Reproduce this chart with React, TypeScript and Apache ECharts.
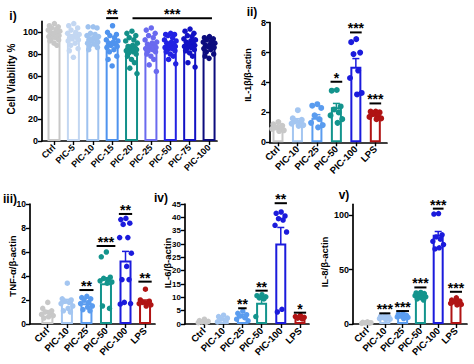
import React, { useEffect, useRef } from "react";
import * as echarts from "echarts";

const FONT = "'Liberation Sans', Arial, Helvetica, sans-serif";

// Horizontal spread of individual replicates around each category centre (category units)
const JITTER = [0.02, -0.24, 0.22, -0.12, 0.12, -0.3, 0.3, 0.06, -0.18, 0.18, -0.06, 0.26, -0.27, 0.09, -0.14, 0.24, -0.21, 0.0, 0.15, -0.09, 0.28];

// ---------- i) Cell viability ----------
const viabilityCategories = ["Ctrl", "PIC-5", "PIC-10", "PIC-15", "PIC-20", "PIC-25", "PIC-50", "PIC-75", "PIC-100"];
const viabilityMeans = [99, 96, 94, 89, 86, 86, 88, 87, 87];
const viabilitySem = [1.2, 1.8, 1.5, 2.0, 2.0, 2.2, 1.6, 1.8, 1.3];
const viabilityPoints = [
  [108, 106, 105, 104, 103, 102, 101, 100, 100, 99, 98, 97, 96, 95, 94, 93, 92, 90, 88],
  [108, 106, 104, 102, 100, 99, 98, 97, 96, 95, 94, 93, 92, 90, 88, 85, 83, 77],
  [105, 105, 104, 99, 98, 97, 96, 95, 94, 93, 92, 91, 90, 89, 88, 86, 84],
  [106, 100, 98, 97, 95, 93, 92, 91, 90, 89, 88, 87, 86, 84, 82, 78, 75, 69],
  [101, 99, 97, 95, 93, 92, 90, 88, 87, 86, 85, 84, 83, 82, 81, 80, 78, 75, 72, 67, 62],
  [104, 102, 99, 97, 95, 93, 91, 90, 89, 88, 87, 86, 85, 84, 83, 82, 80, 78, 75, 70, 64],
  [99, 98, 98, 97, 95, 93, 92, 91, 90, 89, 88, 87, 86, 85, 84, 83, 82, 80, 78, 75, 71],
  [103, 101, 99, 97, 96, 94, 93, 92, 91, 90, 89, 88, 87, 86, 85, 84, 83, 81, 78, 72, 68],
  [96, 95, 94, 93, 92, 91, 90, 89, 88, 88, 87, 86, 85, 84, 82, 80, 78, 76],
];
const viabilityColors = ["#c8c8c8", "#c3d7f2", "#9ec2ef", "#4f93ee", "#139089", "#6a6aef", "#2323e3", "#1212c4", "#0c0c7e"];
const viabilityTicks = [0, 20, 40, 60, 80, 100];
const viabilitySig: [number, number, number, string][] = [
  [2.69, 3.31, 113, "**"],
  [4.05, 8.15, 113, "***"],
];

// ---------- shared treatment groups for ii–v ----------
const treatmentCategories = ["Ctrl", "PIC-10", "PIC-25", "PIC-50", "PIC-100", "LPS"];
const treatmentColors = ["#c8c8c8", "#a4c6f1", "#5a9cef", "#13948d", "#1b1bdc", "#b01414"];

// ---------- ii) IL-1β ----------
const il1bMeans = [1.0, 1.45, 1.65, 2.35, 5.05, 1.85];
const il1bSem = [0.1, 0.13, 0.2, 0.25, 0.55, 0.08];
const il1bPoints = [
  [1.35, 1.2, 1.1, 1.0, 0.95, 0.9, 0.8, 0.75],
  [2.15, 1.6, 1.5, 1.4, 1.35, 1.25, 1.15, 1.1],
  [2.55, 2.45, 2.3, 1.8, 1.55, 1.3, 1.15, 1.0],
  [3.5, 3.45, 2.4, 2.2, 2.0, 1.8, 1.55, 1.3],
  [6.9, 6.7, 6.0, 5.9, 4.8, 4.3, 3.3, 3.2],
  [2.05, 2.05, 2.0, 1.9, 1.8, 1.7, 1.6, 1.55],
];
const il1bTicks = [0, 2, 4, 6, 8];
const il1bSig: [number, number, number, string][] = [
  [2.7, 3.3, 4.05, "*"],
  [3.7, 4.3, 7.35, "***"],
  [4.7, 5.3, 2.6, "***"],
];

// ---------- iii) TNF-α ----------
const tnfMeans = [1.0, 1.85, 1.72, 3.4, 5.3, 1.85];
const tnfSem = [0.12, 0.2, 0.12, 0.45, 0.75, 0.15];
const tnfPoints = [
  [1.8, 1.3, 1.1, 1.0, 0.9, 0.8, 0.7, 0.6, 0.5],
  [3.4, 2.1, 2.0, 1.9, 1.8, 1.7, 1.5, 1.3, 1.1, 1.0],
  [2.3, 2.2, 2.1, 2.0, 1.8, 1.7, 1.5, 1.4, 1.2, 1.1],
  [6.0, 5.6, 3.9, 3.8, 3.7, 3.6, 3.5, 3.4, 1.5, 1.3],
  [8.8, 8.7, 8.4, 8.3, 7.2, 7.2, 5.9, 4.8, 3.7, 3.7, 1.8, 1.7, 1.65],
  [2.9, 2.0, 1.9, 1.8, 1.75, 1.7, 1.6, 1.5],
];
const tnfTicks = [0, 2, 4, 6, 8, 10];
const tnfSig: [number, number, number, string][] = [
  [1.64, 2.36, 2.83, "**"],
  [2.52, 3.48, 6.5, "***"],
  [3.66, 4.34, 9.17, "**"],
  [4.66, 5.34, 3.53, "**"],
];

// ---------- iv) IL-6 ----------
const il6Means = [1.0, 1.8, 3.0, 8.0, 30.2, 2.5];
const il6Sem = [0.15, 0.3, 0.5, 1.4, 6.0, 0.3];
const il6Points = [
  [1.8, 1.3, 1.0, 0.8, 0.6, 0.5],
  [3.3, 2.8, 2.2, 1.8, 1.2, 0.8],
  [4.8, 4.0, 3.5, 3.0, 2.4, 1.8, 1.2],
  [11.0, 10.6, 10.2, 9.8, 9.4, 2.8],
  [42.0, 41.5, 40.5, 39.5, 39.0, 37.0, 34.5, 5.5, 4.5],
  [3.2, 2.8, 2.5, 2.2, 1.9],
];
const il6Ticks = [0, 5, 10, 15, 20, 25, 30, 35, 40, 45];
const il6Sig: [number, number, number, string][] = [
  [1.78, 2.22, 5.9, "**"],
  [2.68, 3.32, 12.5, "**"],
  [3.68, 4.32, 45.3, "**"],
  [4.68, 5.32, 4.25, "*"],
];

// ---------- v) IL-8 ----------
const il8Means = [1.0, 5.5, 7.0, 26.0, 82.0, 20.0];
const il8Sem = [0.2, 0.6, 0.7, 0.9, 3.0, 1.0];
const il8Points = [
  [2.0, 1.5, 1.2, 1.0, 0.8, 0.6],
  [8.0, 7.0, 6.5, 6.0, 5.5, 5.0, 4.5, 4.0],
  [10.0, 9.0, 8.0, 7.5, 7.0, 6.5, 6.0, 5.0],
  [29.0, 28.5, 28.0, 27.5, 27.0, 26.0, 25.0, 24.0, 23.0, 22.0],
  [101.5, 101.0, 82.0, 80.0, 78.0, 76.0, 73.0, 70.0, 69.0],
  [24.0, 22.0, 21.0, 20.5, 20.0, 19.0, 18.0, 17.5],
];
const il8Ticks = [0, 50, 100];
const il8Sig: [number, number, number, string][] = [
  [0.69, 1.31, 9.8, "***"],
  [1.64, 2.36, 11.9, "***"],
  [2.66, 3.34, 33.6, "***"],
  [3.7, 4.3, 106, "***"],
  [4.66, 5.34, 29.6, "***"],
];

type Panel = {
  cats: string[];
  means: number[];
  sem: number[];
  points: number[][];
  colors: string[];
  ticks: number[];
  yMax: number;
  sig: [number, number, number, string][];
  grid: { left: number; top: number; width: number; height: number };
  xMin: number;
  xMax: number;
  barWidth: number;
  dotSize: number;
  tickFont: number;
  catFont: number;
};

const panels: Panel[] = [
  {
    cats: viabilityCategories, means: viabilityMeans, sem: viabilitySem, points: viabilityPoints,
    colors: viabilityColors, ticks: viabilityTicks, yMax: 110, sig: viabilitySig,
    grid: { left: 42, top: 21.4, width: 175, height: 119.6 }, xMin: -0.62, xMax: 8.41,
    barWidth: 13, dotSize: 5.5, tickFont: 9, catFont: 9,
  },
  {
    cats: treatmentCategories, means: il1bMeans, sem: il1bSem, points: il1bPoints,
    colors: treatmentColors, ticks: il1bTicks, yMax: 8, sig: il1bSig,
    grid: { left: 270, top: 22.7, width: 117, height: 119.6 }, xMin: -0.41, xMax: 5.6,
    barWidth: 11, dotSize: 6, tickFont: 9, catFont: 9.5,
  },
  {
    cats: treatmentCategories, means: tnfMeans, sem: tnfSem, points: tnfPoints,
    colors: treatmentColors, ticks: tnfTicks, yMax: 10, sig: tnfSig,
    grid: { left: 30, top: 204, width: 125, height: 120 }, xMin: -0.89, xMax: 5.51,
    barWidth: 12, dotSize: 5.5, tickFont: 8.5, catFont: 9.5,
  },
  {
    cats: treatmentCategories, means: il6Means, sem: il6Sem, points: il6Points,
    colors: treatmentColors, ticks: il6Ticks, yMax: 45, sig: il6Sig,
    grid: { left: 185, top: 204, width: 124, height: 120 }, xMin: -0.99, xMax: 5.47,
    barWidth: 11, dotSize: 5.5, tickFont: 8, catFont: 9.5,
  },
  {
    cats: treatmentCategories, means: il8Means, sem: il8Sem, points: il8Points,
    colors: treatmentColors, ticks: il8Ticks, yMax: 110, sig: il8Sig,
    grid: { left: 353, top: 204.3, width: 114, height: 119.7 }, xMin: -0.79, xMax: 5.62,
    barWidth: 11, dotSize: 5.5, tickFont: 9, catFont: 9.5,
  },
];

const panelTitles = ["i)", "ii)", "iii)", "iv)", "v)"];
const yAxisTitles = ["Cell Viability %", "IL-1β/β-actin", "TNF-α/β-actin", "IL-6/β-actin", "IL-8/β-actin"];

function buildOption() {
  const grid: any[] = [];
  const xAxis: any[] = [];
  const yAxis: any[] = [];
  const series: any[] = [];

  panels.forEach((p, k) => {
    const idx = p.cats.map((_, i) => i);
    grid.push({ ...p.grid, outerBoundsMode: "none", containLabel: false });
    xAxis.push({
      type: "value", gridIndex: k, min: p.xMin, max: p.xMax,
      axisLine: { show: true, onZero: false, lineStyle: { color: "#000", width: 1.7 } },
      axisTick: { show: true, length: 4, customValues: idx, lineStyle: { color: "#000", width: 1.4 } },
      axisLabel: {
        customValues: idx,
        formatter: (v: number) => p.cats[Math.round(v)] ?? "",
        rotate: 45, margin: 5, color: "#000",
        fontFamily: FONT, fontWeight: "bold", fontSize: p.catFont,
      },
      splitLine: { show: false },
    });
    yAxis.push({
      type: "value", gridIndex: k, min: 0, max: p.yMax,
      axisLine: { show: true, onZero: false, lineStyle: { color: "#000", width: 1.7 } },
      axisTick: { show: true, length: 4, customValues: p.ticks, lineStyle: { color: "#000", width: 1.4 } },
      axisLabel: {
        customValues: p.ticks, margin: 4, color: "#000",
        fontFamily: FONT, fontWeight: "bold", fontSize: p.tickFont,
      },
      splitLine: { show: false },
    });

    // hollow mean bars
    series.push({
      type: "bar", xAxisIndex: k, yAxisIndex: k, barWidth: p.barWidth, silent: true,
      data: p.means.map((m, i) => ({
        value: [i, m],
        itemStyle: { color: "#ffffff", borderColor: p.colors[i], borderWidth: 2 },
      })),
    });

    // individual replicates
    series.push({
      type: "scatter", xAxisIndex: k, yAxisIndex: k, symbolSize: p.dotSize, silent: true,
      data: p.points.flatMap((vals, i) =>
        vals.map((v, j) => ({ value: [i + JITTER[j % JITTER.length], v], itemStyle: { color: p.colors[i], opacity: 1 } }))
      ),
    });

    // mean ± SEM
    series.push({
      type: "custom", xAxisIndex: k, yAxisIndex: k, silent: true,
      data: p.means.map((m, i) => [i, m, p.sem[i]]),
      renderItem: (params: any, api: any) => {
        const x = api.value(0), m = api.value(1), s = api.value(2);
        const top = api.coord([x, m + s]);
        const bot = api.coord([x, m - s]);
        const color = p.colors[params.dataIndex];
        const cap = 3.5;
        const st = { stroke: color, lineWidth: 1.5 };
        return {
          type: "group",
          children: [
            { type: "line", shape: { x1: top[0], y1: top[1], x2: bot[0], y2: bot[1] }, style: st },
            { type: "line", shape: { x1: top[0] - cap, y1: top[1], x2: top[0] + cap, y2: top[1] }, style: st },
            { type: "line", shape: { x1: bot[0] - cap, y1: bot[1], x2: bot[0] + cap, y2: bot[1] }, style: st },
          ],
        };
      },
    });

    // significance markers
    series.push({
      type: "custom", xAxisIndex: k, yAxisIndex: k, silent: true, clip: false, z: 5,
      data: p.sig.map((s) => [s[0], s[1], s[2]]),
      renderItem: (params: any, api: any) => {
        const a = api.coord([api.value(0), api.value(2)]);
        const b = api.coord([api.value(1), api.value(2)]);
        const label = p.sig[params.dataIndex][3];
        return {
          type: "group",
          children: [
            { type: "line", shape: { x1: a[0], y1: a[1], x2: b[0], y2: b[1] }, style: { stroke: "#000", lineWidth: 2 } },
            {
              type: "text", x: (a[0] + b[0]) / 2, y: a[1] - 4,
              style: { text: label, fill: "#000", font: `bold 14px ${FONT}`, align: "center", verticalAlign: "middle" },
            },
          ],
        };
      },
    });
  });

  const titlePos = [
    [13, 16], [252, 12], [10, 199], [161, 198], [344, 195],
  ];
  const axisTitlePos = [
    [11, 79, 10], [248, 75, 9], [12, 266, 9.5], [167, 263, 9.5], [324, 262, 9.5],
  ];
  const graphic: any[] = [];
  panelTitles.forEach((t, i) => {
    graphic.push({
      type: "text", x: titlePos[i][0], y: titlePos[i][1],
      style: { text: t, fill: "#000", font: `bold 12px ${FONT}`, align: "center", verticalAlign: "middle" },
    });
  });
  yAxisTitles.forEach((t, i) => {
    graphic.push({
      type: "text", x: axisTitlePos[i][0], y: axisTitlePos[i][1], rotation: Math.PI / 2,
      style: { text: t, fill: "#000", font: `bold ${axisTitlePos[i][2]}px ${FONT}`, align: "center", verticalAlign: "middle" },
    });
  });

  return {
    animation: false,
    backgroundColor: "#ffffff",
    grid, xAxis, yAxis, series, graphic,
  };
}

export default function App() {
  const ref = useRef<HTMLDivElement>(null);
  useEffect(() => {
    if (!ref.current) return;
    const chart = echarts.init(ref.current, undefined, { renderer: "svg" });
    chart.setOption(buildOption() as any);
    return () => chart.dispose();
  }, []);
  return (
    <div
      ref={ref}
      style={{ position: "absolute", left: 0, top: 0, width: 474, height: 364, background: "#fff" }}
    />
  );
}
